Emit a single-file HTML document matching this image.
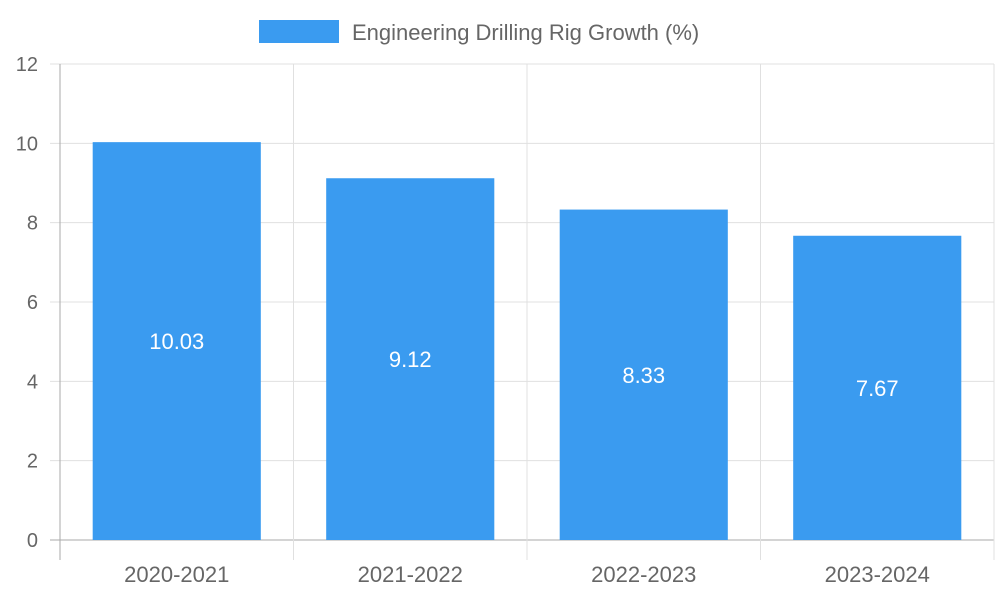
<!DOCTYPE html>
<html><head><meta charset="utf-8"><style>
html,body{margin:0;padding:0;background:#fff;width:1000px;height:600px;overflow:hidden}
svg{display:block;font-family:"Liberation Sans",sans-serif}
</style></head><body>
<svg id="chart" width="1000" height="600">
<g id="legend">
<rect x="259" y="20" width="80" height="23" fill="#3a9bf0"></rect>
<text x="352" y="40" font-size="22" fill="#666">Engineering Drilling Rig Growth (%)</text>
</g>
<g id="grid"></g><g id="bars"></g><g id="axes"></g>
</svg>
<script>
const categories = ["2020-2021","2021-2022","2022-2023","2023-2024"];
const values = [10.03, 9.12, 8.33, 7.67];
const yTicks = [0,2,4,6,8,10,12];
const NS="http://www.w3.org/2000/svg";
const L=60,R=994,T=64,B=540,yMax=12;
const y=v=>B-(v/yMax)*(B-T);
const cw=(R-L)/categories.length;
const x=i=>L+cw*i;
function mk(tag,attrs,parent,text){const e=document.createElementNS(NS,tag);for(const k in attrs)e.setAttribute(k,attrs[k]);if(text!==undefined)e.textContent=text;parent.appendChild(e);return e;}
const grid=document.getElementById('grid'),bars=document.getElementById('bars'),axes=document.getElementById('axes');
yTicks.forEach(t=>{
  const ln=mk('line',{x1:L-10,x2:R,y1:y(t),y2:y(t),stroke:t===0?'#aaa':'#e0e0e0','stroke-width':1},grid);
  
  
  const tx=mk('text',{x:L-22,y:y(t)+7,'font-size':20,fill:'#666','text-anchor':'end'},axes,String(t));
  
  
});
for(let i=0;i<=categories.length;i++){
  const ln=mk('line',{x1:x(i),x2:x(i),y1:T,y2:B+20,stroke:i===0?'#aaa':'#e0e0e0','stroke-width':1},grid);
  
  
}
categories.forEach((c,i)=>{
  const bw=cw*0.72, bx=x(i)+(cw-bw)/2;
  const r=mk('rect',{x:bx,y:y(values[i]),width:bw,height:B-y(values[i]),fill:'#3a9bf0'},bars);
  
  
  const vt=mk('text',{x:bx+bw/2,y:(y(values[i])+B)/2+8,'font-size':22,fill:'#fff','text-anchor':'middle'},bars,values[i].toFixed(2));
  
  
  const ct=mk('text',{x:x(i)+cw/2,y:582,'font-size':22,fill:'#666','text-anchor':'middle'},axes,c);
  
  
});
</script>
</body></html>
